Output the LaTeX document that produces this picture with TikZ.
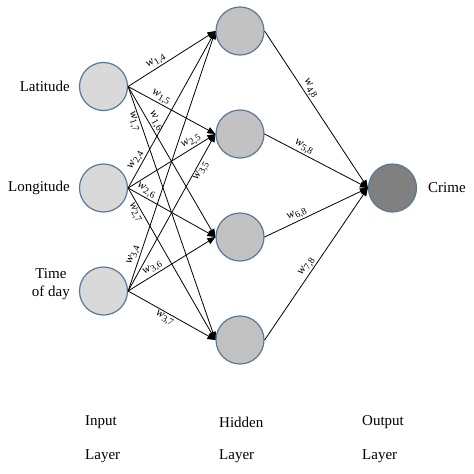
\documentclass[tikz,border=0pt]{standalone}
\usepackage{fontspec}
\setmainfont{Liberation Serif}
\usetikzlibrary{arrows.meta}
\definecolor{nodeborder}{HTML}{5B7896}
\definecolor{infill}{HTML}{D9D9D9}
\definecolor{hidfill}{HTML}{C2C2C2}
\definecolor{outfill}{HTML}{808080}
\newcommand\wlab[2]{\textit{w}\raisebox{-0.22em}{\fontsize{9.5}{9.5}\selectfont #1,#2}}
\begin{document}
\begin{tikzpicture}[x=1pt,y=-1pt,
  neuron/.style={circle, draw=nodeborder, line width=1.2pt, minimum size=48pt, inner sep=0pt},
  inneuron/.style={neuron, fill=infill},
  hidneuron/.style={neuron, fill=hidfill},
  outneuron/.style={neuron, fill=outfill},
  conn/.style={draw=black, line width=0.8pt, -{Triangle[length=8pt,width=6.5pt]}},
  wl/.style={font=\fontsize{12}{12}\selectfont, sloped, inner sep=1pt},
  lab/.style={font=\fontsize{15}{18}\selectfont, inner sep=0pt}
]
\useasboundingbox (0,0) rectangle (474,474);
\node[inneuron] (i1) at (103.5,86.5) {};
\node[inneuron] (i2) at (103.5,188) {};
\node[inneuron] (i3) at (103.5,291) {};
\node[hidneuron] (h4) at (240,31) {};
\node[hidneuron] (h5) at (240,134) {};
\node[hidneuron] (h6) at (240,237) {};
\node[hidneuron] (h7) at (240,340) {};
\node[outneuron] (o8) at (392.5,188) {};

\node[lab, anchor=east] (lat) at (70,86.5) {Latitude};
\node[lab, anchor=east] (lon) at (70,188) {Longitude};
\node[lab, anchor=east, align=center] (tod) at (70,284) {Time\\of day};
\node[lab, anchor=west] (crime) at (428,188) {Crime};

\node[lab, anchor=west] (inL1) at (85,422) {Input};
\node[lab, anchor=west] (inL2) at (85,456) {Layer};
\node[lab, anchor=west] (hidL1) at (219,422) {Hidden};
\node[lab, anchor=west] (hidL2) at (219,456) {Layer};
\node[lab, anchor=west] (outL1) at (362,422) {Output};
\node[lab, anchor=west] (outL2) at (362,456) {Layer};

\draw[conn] (i1.east) -- node[wl, pos=0.36, above] {\wlab{1}{4}} (h4.west);
\draw[conn] (i1.east) -- node[wl, pos=0.34, above] {\wlab{1}{5}} (h5.west);
\draw[conn] (i1.east) -- node[wl, pos=0.25, above] {\wlab{1}{6}} (h6.west);
\draw[conn] (i1.east) -- node[wl, pos=0.13, below] {\wlab{1}{7}} (h7.west);
\draw[conn] (i2.east) -- node[wl, pos=0.155, above] {\wlab{2}{4}} (h4.west);
\draw[conn] (i2.east) -- node[wl, pos=0.76, above] {\wlab{2}{5}} (h5.west);
\draw[conn] (i2.east) -- node[wl, pos=0.17, above] {\wlab{2}{6}} (h6.west);
\draw[conn] (i2.east) -- node[wl, pos=0.14, below] {\wlab{2}{7}} (h7.west);
\draw[conn] (i3.east) -- node[wl, pos=0.13, above] {\wlab{3}{4}} (h4.west);
\draw[conn] (i3.east) -- node[wl, pos=0.78, below] {\wlab{3}{5}} (h5.west);
\draw[conn] (i3.east) -- node[wl, pos=0.32, above] {\wlab{3}{6}} (h6.west);
\draw[conn] (i3.east) -- node[wl, pos=0.45, below] {\wlab{3}{7}} (h7.west);

\draw[conn] (h4.east) -- node[wl, pos=0.39, above] {\wlab{4}{8}} (o8.west);
\draw[conn] (h5.east) -- node[wl, pos=0.35, above] {\wlab{5}{8}} (o8.west);
\draw[conn] (h6.east) -- node[wl, pos=0.34, above] {\wlab{6}{8}} (o8.west);
\draw[conn] (h7.east) -- node[wl, pos=0.46, above] {\wlab{7}{8}} (o8.west);
\end{tikzpicture}
\end{document}
